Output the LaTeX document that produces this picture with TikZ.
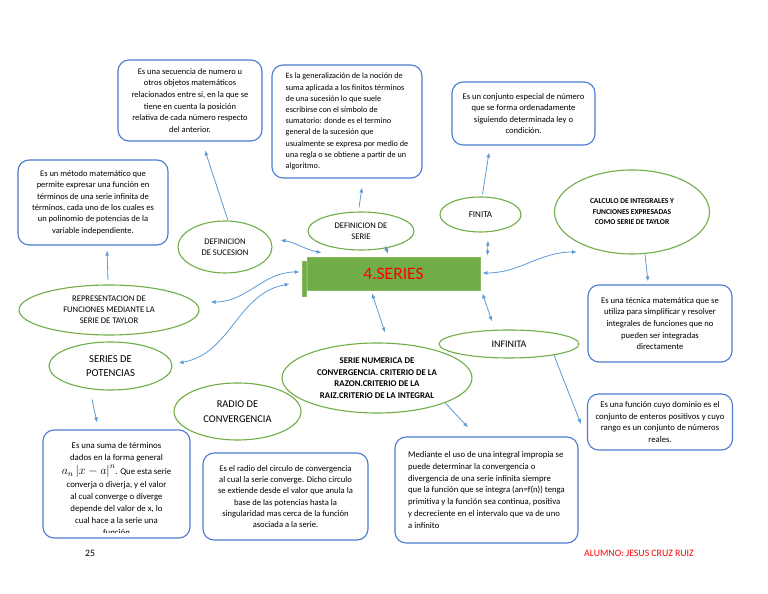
\documentclass[tikz,border=0pt]{standalone}
\usepackage{fontspec}
\setmainfont{Carlito}
\usetikzlibrary{arrows.meta,shapes.geometric}
\definecolor{cardblue}{HTML}{4A7BD1}
\definecolor{ovgreen}{HTML}{70AD47}
\definecolor{lnblue}{HTML}{5B9BD5}
\newcommand{\fsz}[2]{\fontsize{#1}{#2}\selectfont}
\tikzset{>={Latex[length=5pt,width=4pt]},every node/.style={inner sep=0pt},
card/.style={draw=cardblue,line width=1.1pt,rounded corners=11pt,fill=white,align=center,font=\fsz{8.7}{11.5}},
oval/.style={ellipse,draw=ovgreen,line width=1.1pt,fill=white,align=center,font=\fsz{8.6}{11.2}},
lk/.style={draw=lnblue,line width=.8pt,->},lk2/.style={draw=lnblue,line width=.8pt,<->}}

\begin{document}
\begin{tikzpicture}[x=1pt,y=1pt]
\fill[white] (0,0) rectangle (768,594);
\useasboundingbox (0,0) rectangle (768,594);
% tarjetas de arriba
\node[card,font=\fsz{8.5}{11.7},minimum width=144,minimum height=81] (sucinfo) at (190,493.5) {Es una secuencia de numero u\\otros objetos matemáticos\\relacionados entre sí, en la que se\\tiene en cuenta la posición\\relativa de cada número respecto\\del anterior.};
\node[card,align=left,font=\fsz{8.2}{11.2},minimum width=150,minimum height=113] (serinfo) at (347,472.5) {Es la generalización de la noción de\\suma aplicada a los finitos términos\\de una sucesión lo que suele\\escribirse con el símbolo de\\sumatorio: donde es el termino\\general de la sucesión que\\usualmente se expresa por medio de\\una regla o se obtiene a partir de un\\algoritmo.};
\node[card,font=\fsz{8.6}{11.3},minimum width=143,minimum height=63] (fininfo) at (523.5,480.5) {Es un conjunto especial de número\\que se forma ordenadamente\\siguiendo determinada ley o\\condición.};
\node[card,font=\fsz{8.5}{11.3},minimum width=150,minimum height=85] (tayinfo) at (93,391.5) {Es un método matemático que\\permite expresar una función en\\términos de una serie infinita de\\términos, cada uno de los cuales es\\un polinomio de potencias de la\\variable independiente.};
% ovalos
\node[oval,minimum width=94,minimum height=52] (sucesion) at (225,347) {DEFINICION\\DE SUCESION};
\node[oval,minimum width=106,minimum height=38] (serie) at (361,363) {DEFINICION DE\\SERIE};
\node[oval,font=\fsz{9}{11},minimum width=81,minimum height=35] (finita) at (480.5,379.5) {FINITA};
\node[oval,font=\bfseries\fsz{7.5}{10.5},minimum width=155,minimum height=84] (calculo) at (632,382) {CALCULO DE INTEGRALES Y\\FUNCIONES EXPRESADAS\\COMO SERIE DE TAYLOR};
\node[oval,minimum width=180,minimum height=50] (repr) at (109,284) {REPRESENTACION DE\\FUNCIONES MEDIANTE LA\\SERIE DE TAYLOR};
\node[oval,font=\fsz{10.6}{14},minimum width=123,minimum height=48] (potencias) at (110.5,228) {SERIES DE\\POTENCIAS};
\node[oval,font=\fsz{10}{12},minimum width=140,minimum height=28] (infinita) at (509,250) {INFINITA};
\node[oval,font=\bfseries\fsz{8.8}{11.5},minimum width=190,minimum height=70] (numerica) at (377,216) {SERIE NUMERICA DE\\CONVERGENCIA. CRITERIO DE LA\\RAZON.CRITERIO DE LA\\RAIZ.CRITERIO DE LA INTEGRAL};
\node[oval,font=\fsz{10.4}{15},minimum width=127,minimum height=57] (radio) at (237.5,182.5) {RADIO DE\\CONVERGENCIA};
% titulo
\node[fill=ovgreen,draw=ovgreen!85!white,line width=.8pt,minimum width=173,minimum height=33,text=red,font=\fsz{17.5}{17}] (series) at (393.5,320.5) {4.SERIES};
\node[fill=ovgreen,draw=ovgreen!85!white,line width=.8pt,minimum width=4,minimum height=35] (bar) at (304,315.5) {};
% tarjetas de abajo
\node[card,font=\fsz{8.6}{11.7},minimum width=144,minimum height=77] (calcinfo) at (660,270.5) {Es una técnica matemática que se\\utiliza para simplificar y resolver\\integrales de funciones que no\\pueden ser integradas\\directamente};
\node[card,font=\fsz{8.7}{11.5},minimum width=145,minimum height=56] (funcinfo) at (660,172) {Es una función cuyo dominio es el\\conjunto de enteros positivos y cuyo\\rango es un conjunto de números\\reales.};
\node[card,minimum width=147,minimum height=108] (potinfo) at (116.5,110) {};
\begin{scope}\clip ([yshift=6]potinfo.south west) rectangle (potinfo.north east);
\node[align=center,font=\fsz{8.8}{12},anchor=north] (pottext) at ([yshift=-12.5]potinfo.north) {Es una suma de términos\\dados en la forma general\\[2pt]{\fsz{11.5}{12}$a_n\left|x-a\right|^n$}. Que esta serie\\[1pt]converja o diverja, y el valor\\al cual converge o diverge\\depende del valor de x, lo\\cual hace a la serie una\\función};
\end{scope}
\node[card,font=\fsz{8.6}{11.2},minimum width=165,minimum height=87] (radinfo) at (285.5,97.5) {Es el radio del circulo de convergencia\\al cual la serie converge. Dicho circulo\\se extiende desde el valor que anula la\\base de las potencias hasta la\\singularidad mas cerca de la función\\asociada a la serie.};
\node[card,align=left,font=\fsz{8.7}{11.7},minimum width=183,minimum height=106] (intinfo) at (486.5,104) {Mediante el uso de una integral impropia se\\puede determinar la convergencia o\\divergencia de una serie infinita siempre\\que la función que se integra (an=f(n)) tenga\\primitiva y la función sea continua, positiva\\y decreciente en el intervalo que va de uno\\a infinito};
% pie
\node[font=\fsz{9.8}{11}] (pag) at (90,41) {25};
\node[font=\fsz{9.8}{11},text=red] (alumno) at (639,41) {ALUMNO: JESUS CRUZ RUIZ};
% conectores
\draw[lk] ([xshift=3]sucesion.north) -- ([shift={(15,-9)}]sucinfo.south);
\draw[lk2] ([shift={(8,7)}]sucesion.east) to[out=-10,in=170] ([shift={(15,4)}]series.north west);
\draw[lk] ([shift={(-2,4)}]serie.north) -- ([shift={(15,-9)}]serinfo.south);
\draw[lk2] ([shift={(24,5)}]serie.south) -- ([shift={(-5.5,3)}]series.north);
\draw[lk2] ([shift={(11,8)}]repr.east) to[out=0,in=180] ([shift={(-2,6.5)}]bar.west);
\draw[lk2] ([shift={(6,3)}]potencias.east) to[out=10,in=190] ([shift={(-12,-5.5)}]bar.west);
\draw[lk] ([shift={(-1,4)}]repr.north) -- ([shift={(14,-5)}]tayinfo.south);
\draw[lk] ([shift={(-18.5,-9)}]potencias.south) -- ([shift={(-19.5,7)}]potinfo.north);
\draw[lk] ([shift={(2,2)}]finita.north) -- ([shift={(-34.5,-7)}]fininfo.south);
\draw[lk2] ([shift={(7.5,-8)}]finita.south) -- ([shift={(7,1)}]series.north east);
\draw[lk2] ([shift={(2,.5)}]series.east) to[out=0,in=180] ([shift={(23,-40)}]calculo.west);
\draw[lk] ([xshift=13]calculo.south) -- ([shift={(-12,3)}]calcinfo.north);
\draw[lk2] ([shift={(2,-3)}]series.south east) -- ([shift={(-17,8)}]infinita.north);
\draw[lk2] ([shift={(-21.5,-3)}]series.south) -- ([shift={(8,10)}]numerica.north);
\draw[lk] (infinita.-14) -- ([shift={(-6,-2)}]funcinfo.west);
\draw[lk] (numerica.-20) -- ([shift={(-18.5,9)}]intinfo.north);
\end{tikzpicture}
\end{document}
